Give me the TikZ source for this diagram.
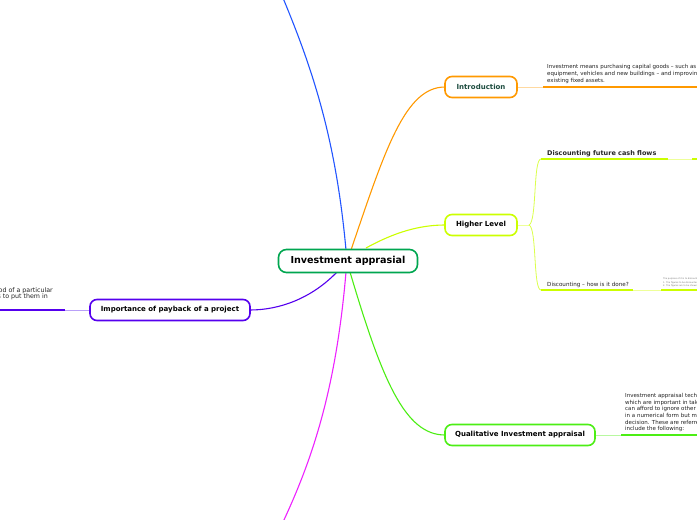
\documentclass[tikz,border=0pt]{standalone}
\usepackage{fontspec}
\setmainfont{DejaVu Sans}
\definecolor{rootB}{HTML}{00A650}
\definecolor{orangeB}{HTML}{FF9900}
\definecolor{orangeL}{HTML}{FFD9A0}
\definecolor{ylwB}{HTML}{CCFF00}
\definecolor{ylwL}{HTML}{EEFF99}
\definecolor{grnB}{HTML}{4CEE14}
\definecolor{grnL}{HTML}{B8F8A0}
\definecolor{purpB}{HTML}{5500EE}
\definecolor{purpL}{HTML}{B9A0F8}
\definecolor{blueB}{HTML}{2255FF}
\definecolor{magB}{HTML}{EE22FF}
\definecolor{tealT}{HTML}{1E4D40}
\definecolor{bodyT}{HTML}{222222}
\tikzset{
  rootbox/.style={draw=rootB, rounded corners=8pt, line width=1.6pt, fill=white,
    font=\bfseries\fontsize{9.6}{11}\selectfont, inner sep=0pt, minimum width=139pt, minimum height=23pt},
  topic/.style={rounded corners=7pt, line width=1.6pt, fill=white,
    font=\bfseries\fontsize{7}{8}\selectfont, inner sep=0pt, minimum height=21pt},
  bodytext/.style={font=\fontsize{5.5}{6.6}\selectfont, text=bodyT, align=left, inner sep=0pt},
  subhead/.style={font=\bfseries\fontsize{6.5}{7.5}\selectfont, text=black!85, inner sep=0pt, anchor=base west},
  subtext/.style={font=\fontsize{5.6}{6.5}\selectfont, text=bodyT, inner sep=0pt, anchor=base west},
  branch/.style={line width=1.1pt},
  uline/.style={line width=2pt},
  thinline/.style={line width=0.8pt},
}
\begin{document}
\begin{tikzpicture}[x=1pt,y=-1pt]
\useasboundingbox (0,0) rectangle (697,520);
\clip (0,0) rectangle (697,520);
\fill[white] (0,0) rectangle (697,520);

% free ends and branch points
\coordinate (topend) at (283,-2);
\coordinate (botend) at (283,522);
\coordinate (rTop) at (346,250);
\coordinate (rOr) at (351,250);
\coordinate (rYl) at (366,248);
\coordinate (rGr) at (350,272);
\coordinate (rPu) at (337,272);
\coordinate (rMa) at (346,272);

% main branches (drawn first, under the nodes)
\draw[branch, blueB] (rTop) .. controls (336,140) and (313,70) .. (topend);
\draw[branch, magB] (rMa) .. controls (336,390) and (312,460) .. (botend);
\draw[branch, orangeB] (rOr) .. controls (385,150) and (405,87) .. (445,87);
\draw[branch, ylwB] (rYl) .. controls (395,232) and (420,225) .. (445,225);
\draw[branch, grnB] (rGr) .. controls (382,380) and (405,435) .. (445,435);
\draw[branch, purpB] (rPu) .. controls (312,298) and (280,310) .. (250,310);

% nodes
\node[rootbox] (root) at (348,261) {Investment apprasial};
\node[topic, draw=orangeB, text=tealT, minimum width=72pt] (intro) at (481,87) {Introduction};
\node[topic, draw=ylwB, minimum width=72pt] (hl) at (481,225) {Higher Level};
\node[topic, draw=grnB, minimum width=150pt] (qual) at (520,435) {Qualitative Investment appraisal};
\node[topic, draw=purpB, minimum width=160pt] (pay) at (170,310) {Importance of payback of a project};

% Introduction
\coordinate (iA) at (543,87);
\coordinate (iB) at (699,87);
\draw[thinline, orangeL] (intro.east) -- (iA);
\draw[uline, orangeB] (iA) -- (iB);
\node[bodytext, anchor=south west] (itext) at (547,83.5)
 {Investment means purchasing capital goods – such as machinery,\\
  equipment, vehicles and new buildings – and improving\\
  existing fixed assets.};

% Higher Level
\coordinate (hJ) at (529,225);
\coordinate (d1A) at (541,159);
\coordinate (d1B) at (668,159);
\coordinate (d1C) at (692,159);
\coordinate (d1D) at (699,159);
\coordinate (d2A) at (541,290);
\coordinate (d2B) at (633,290);
\coordinate (d2C) at (661,290);
\coordinate (d2D) at (699,290);
\draw[thinline, ylwL] (hl.east) -- (hJ);
\draw[thinline, ylwB!70!white] (hJ) .. controls (537,222) and (533,159) .. (d1A);
\draw[thinline, ylwB!70!white] (hJ) .. controls (537,228) and (533,290) .. (d2A);
\draw[uline, ylwB] (d1A) -- (d1B);
\draw[thinline, ylwL] (d1B) -- (d1C);
\draw[uline, ylwB] (d1C) -- (d1D);
\draw[uline, ylwB] (d2A) -- (d2B);
\draw[thinline, ylwL] (d2B) -- (d2C);
\draw[uline, ylwB] (d2C) -- (d2D);
\node[subhead] (dfc) at (547,155) {Discounting future cash flows};
\node[subtext] (dhow) at (547,286.5) {Discounting – how is it done?};
\node[font=\fontsize{2.2}{3.6}\selectfont, text=black!55, align=left, inner sep=0pt, anchor=south west] (tiny) at (663,287.5)
 {The purpose of it is to discount future values\\
  1. The figures to be discounted are the net cash\\
  2. The figures are to be shown as in a table};

% Qualitative
\coordinate (qA) at (621,435);
\coordinate (qB) at (699,435);
\draw[thinline, grnL] (qual.east) -- (qA);
\draw[uline, grnB] (qA) -- (qB);
\node[bodytext, anchor=south west] (qtext) at (625,432)
 {Investment appraisal techniques only consider financial factors\\
  which are important in taking decisions. Businesses\\
  can afford to ignore other factors that cannot be put\\
  in a numerical form but may still affect the final\\
  decision. These are referred to as qualitative factors and\\
  include the following:};

% Payback
\coordinate (pA) at (65,310);
\coordinate (pB) at (-2,310);
\draw[thinline, purpL] (pay.west) -- (pA);
\draw[uline, purpB] (pA) -- (pB);
\node[font=\fontsize{6.3}{7}\selectfont, text=bodyT, inner sep=0pt, anchor=base east] (pt1) at (53,292) {the payback period of a particular};
\node[font=\fontsize{6.3}{7}\selectfont, text=bodyT, inner sep=0pt, anchor=base east] (pt2) at (48,298.5) {this information as to put them in};
\end{tikzpicture}
\end{document}
